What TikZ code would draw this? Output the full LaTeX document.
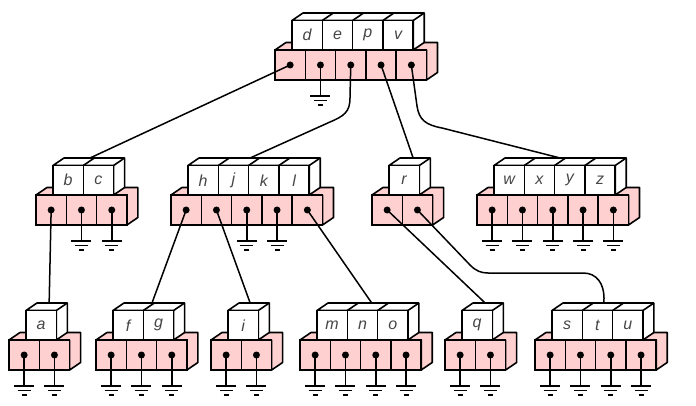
\documentclass[tikz,border=0pt]{standalone}
\usepackage{fontspec}
\setmainfont{Liberation Sans}
\usepackage{tikz}
\usetikzlibrary{calc}

\definecolor{ptrpink}{RGB}{255,208,208}
\definecolor{keygray}{RGB}{70,70,70}

\tikzset{
	keycell/.style={draw=black,fill=white,line width=1.6pt,minimum width=30.3pt,minimum height=29.5pt,inner sep=0pt,outer sep=0pt,
		text=keygray,font=\fontsize{16}{16}\selectfont\itshape},
	ptrcell/.style={draw=black,fill=ptrpink,line width=1.6pt,minimum width=30.3pt,minimum height=30pt,inner sep=0pt,outer sep=0pt},
	ptrdot/.style={circle,fill=black,minimum size=7pt,inner sep=0pt},
	side/.style={draw=black,line width=1.6pt,line join=round},
	wire/.style={draw=black,line width=1.5pt},
	groundbar/.style={draw=black,line width=1.3pt}
}

% #1 name, #2 left of pointer row, #3 top of pointer row, #4 number of keys, #5 keys
\newcommand{\treenode}[5]{
	\pgfmathsetmacro{\rowend}{#2+(#4+1)*30.3}
	\pgfmathsetmacro{\keyend}{#2+17+#4*30.3}
	\draw[side,fill=ptrpink] (#2,#3) -- ++(11,-7.5) -- (\rowend+11,#3-7.5) -- ++(0,30) -- ++(-11,7.5) -- (\rowend,#3) -- cycle;
	\draw[side,fill=white] (#2+17,#3-29.5) -- ++(11,-7.5) -- (\keyend+11,#3-37) -- ++(0,29.5) -- (\keyend,#3) -- (\keyend,#3-29.5) -- cycle;
	\foreach \k in {1,...,#4}{
		\draw[side] (#2+17+\k*30.3,#3-29.5) -- ++(11,-7.5);
	}
	\foreach \keyname [count=\i] in {#5}{
		\node[keycell] (\keyname) at ({#2+17+(\i-0.5)*30.3},{#3-14.75}) {\keyname};
	}
	\foreach \i in {0,...,#4}{
		\node[ptrcell] (#1-\i) at ({#2+(\i+0.5)*30.3},{#3+15}) {};
		\node[ptrdot] at (#1-\i.center) {};
	}
}

\begin{document}
\begin{tikzpicture}[x=1pt,y=-1pt]
	\useasboundingbox (0,0) rectangle (696,406);
	
	\treenode{root}{275}{50}{4}{d,e,p,v}
	
	\treenode{bc}{36}{195}{2}{b,c}
	\treenode{hjkl}{171}{195}{4}{h,j,k,l}
	\treenode{rr}{372}{195}{1}{r}
	\treenode{wxyz}{477}{195}{4}{w,x,y,z}
	
	\treenode{aa}{9}{340}{1}{a}
	\treenode{fg}{96}{340}{2}{f,g}
	\treenode{ii}{211}{340}{1}{i}
	\treenode{mno}{300}{340}{3}{m,n,o}
	\treenode{qq}{445}{340}{1}{q}
	\treenode{stu}{535}{340}{3}{s,t,u}
	
	% null pointers
	\foreach \cell in {root-1,bc-1,bc-2,hjkl-2,hjkl-3,wxyz-0,wxyz-1,wxyz-2,wxyz-3,wxyz-4,
		aa-0,aa-1,fg-0,fg-1,fg-2,ii-0,ii-1,mno-0,mno-1,mno-2,mno-3,qq-0,qq-1,stu-0,stu-1,stu-2,stu-3}{
		\coordinate (gnd) at ([yshift=-31pt]\cell.center);
		\draw[wire] (\cell.center) -- (gnd);
		\draw[groundbar] ([xshift=-10pt]gnd) -- ([xshift=10pt]gnd);
		\draw[groundbar] ([shift={(-6.5,4.5)}]gnd) -- ([shift={(6.5,4.5)}]gnd);
		\draw[groundbar] ([shift={(-2.5,9)}]gnd) -- ([shift={(2.5,9)}]gnd);
	}
	
	% children
	\draw[wire] (root-0.center) -- ([shift={(6.7,-7.5)}]b.north east);
	\draw[wire] (root-2.center) -- (350,98) .. controls (350,112) and (344,116) .. (330,122) -- ([shift={(1.5,-7.5)}]j.north east);
	\draw[wire] (root-3.center) -- ([shift={(9,-7.5)}]r.north);
	\draw[wire] (root-4.center) -- (417,106) .. controls (419,120) and (426,125) .. (442,128) -- ([shift={(5.5,-7.5)}]x.north east);
	
	\draw[wire] (bc-0.center) -- ([shift={(8,-7.5)}]a.north);
	\draw[wire] (hjkl-0.center) -- ([shift={(8.7,-7.5)}]f.north east);
	\draw[wire] (hjkl-1.center) -- ([shift={(7,-7.5)}]i.north);
	\draw[wire] (hjkl-4.center) -- ([shift={(9.3,-7.5)}]n.north);
	\draw[wire] (rr-0.center) -- ([shift={(8,-7.5)}]q.north);
	\draw[wire] (rr-1.center) -- (470,265) .. controls (476,271) and (481,273) .. (488,273) -- (583,273) .. controls (597,273) and (604,284) .. (604,298) -- ([shift={(6.5,-7.5)}]t.north);
	
\end{tikzpicture}
\end{document}
